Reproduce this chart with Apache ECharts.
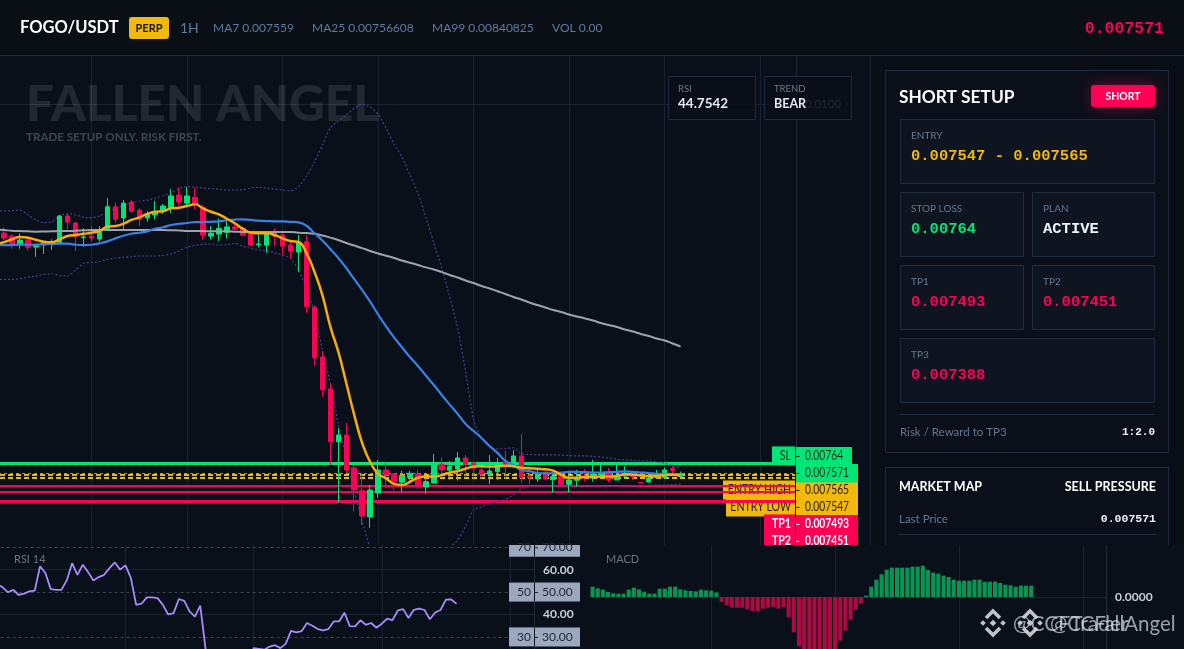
<!DOCTYPE html>
<html><head><meta charset="utf-8">
<style>html,body{margin:0;padding:0;background:#0a0f18;overflow:hidden}#c{width:1184px;height:649px}</style>
<script src="https://cdn.jsdelivr.net/npm/echarts@6/dist/echarts.min.js"></script>
</head><body><div id="c"></div>
<script>
// All prices are in millionths (0.009155 => 9155)
const priceOpen=[9155,9135,9083,9109,9063,9076,9087,9091,9267,9221,9124,9135,9116,9179,9328,9254,9359,9306,9254,9274,9302,9324,9405,9352,9390,9324,9135,9148,9160,9195,9186,9148,9078,9076,9153,9142,9076,9030,9098,8666,8339,8129,7782,7826,7609,7460,7287,7444,7596,7570,7515,7545,7570,7484,7510,7633,7594,7602,7675,7642,7596,7568,7585,7649,7629,7688,7556,7537,7581,7532,7552,7502,7528,7556,7545,7563,7572,7530,7556,7570,7514,7517,7545,7545,7605,7552];
const priceClose=[9122,9083,9109,9061,9074,9094,9096,9267,9227,9131,9129,9122,9175,9328,9245,9352,9298,9245,9280,9295,9333,9399,9359,9399,9344,9142,9153,9186,9195,9181,9142,9076,9083,9153,9135,9069,9037,9096,8670,8335,8124,7782,7826,7596,7464,7293,7464,7596,7563,7517,7559,7574,7486,7519,7629,7596,7618,7675,7633,7607,7568,7589,7629,7629,7688,7545,7545,7572,7537,7552,7502,7530,7545,7545,7570,7572,7530,7556,7574,7552,7510,7541,7570,7596,7594,7571];
const priceLow=[9109,9052,9052,9039,8999,9017,9043,9085,9179,9037,9065,9098,9098,9170,9223,9179,9289,9201,9229,9245,9280,9289,9339,9333,9313,9109,9114,9102,9120,9175,9135,9069,9061,9025,9069,9012,8986,8900,8631,8282,8078,7627,7381,7574,7322,7234,7216,7414,7482,7464,7453,7519,7471,7438,7505,7545,7530,7526,7545,7541,7541,7502,7530,7541,7611,7512,7502,7519,7526,7445,7497,7445,7486,7523,7519,7550,7515,7530,7550,7530,7510,7514,7541,7541,7574,7545];
const priceHigh=[9193,9147,9153,9120,9087,9098,9114,9274,9285,9229,9186,9201,9201,9385,9354,9372,9372,9317,9298,9366,9346,9445,9456,9456,9451,9339,9201,9252,9241,9223,9197,9153,9147,9157,9186,9157,9098,9142,9142,8681,8379,8168,7872,7905,7629,7578,7497,7662,7640,7576,7590,7590,7596,7552,7701,7677,7655,7714,7695,7655,7624,7695,7675,7721,7727,7833,7620,7596,7590,7585,7563,7563,7596,7602,7662,7629,7609,7629,7620,7576,7514,7576,7596,7611,7620,7585];
// The lines start one bar before the first visible candle, off the left edge
const ma7=[9085,9094,9114,9129,9124,9111,9098,9094,9114,9135,9142,9150,9157,9170,9197,9201,9216,9241,9258,9280,9295,9298,9318,9322,9333,9344,9318,9295,9278,9249,9219,9183,9157,9153,9153,9142,9120,9102,9096,9023,8900,8747,8539,8374,8168,7958,7773,7648,7570,7540,7504,7497,7517,7545,7552,7552,7563,7578,7589,7604,7618,7620,7618,7620,7624,7620,7611,7607,7604,7600,7591,7563,7545,7545,7550,7550,7552,7552,7556,7568,7565,7559,7556,7556,7563,7565,7559];
const ma25=[9076,9076,9076,9078,9078,9078,9083,9083,9085,9085,9078,9076,9078,9087,9100,9120,9137,9150,9157,9166,9183,9193,9208,9216,9221,9227,9227,9229,9232,9239,9243,9245,9241,9236,9234,9232,9232,9229,9225,9203,9155,9106,9050,8991,8925,8852,8780,8703,8619,8540,8468,8403,8339,8280,8217,8155,8089,8026,7964,7898,7852,7806,7754,7708,7655,7629,7596,7589,7576,7573,7574,7578,7583,7583,7581,7579,7579,7581,7583,7586,7583,7579,7576,7571,7570,7568,7566];
const ma99=[9178,9175,9170,9168,9166,9164,9165,9166,9168,9168,9170,9173,9175,9175,9175,9175,9175,9175,9175,9175,9175,9175,9173,9172,9168,9168,9168,9166,9166,9166,9164,9162,9162,9162,9162,9162,9162,9162,9157,9155,9150,9139,9125,9109,9089,9073,9056,9037,9020,9006,8991,8974,8960,8945,8929,8915,8898,8879,8862,8843,8826,8806,8790,8772,8754,8734,8718,8698,8681,8665,8648,8635,8619,8606,8593,8579,8563,8550,8537,8520,8507,8491,8477,8461,8448,8428,8408];
const bollUpper=[9300,9300,9302,9306,9274,9241,9223,9229,9271,9282,9274,9258,9256,9267,9295,9318,9335,9354,9364,9372,9385,9400,9420,9449,9460,9456,9451,9447,9443,9438,9438,9440,9451,9456,9451,9445,9438,9433,9460,9530,9622,9734,9846,9892,9931,9977,10004,9984,9938,9846,9741,9655,9537,9418,9260,9089,8925,8734,8530,8241,7925,7800,7747,7734,7737,7741,7701,7698,7695,7695,7695,7693,7691,7688,7688,7685,7681,7675,7665,7662,7658,7655,7655,7649,7639,7622,7609];
const bollLower=[8850,8850,8850,8854,8864,8872,8883,8887,8877,8872,8912,8956,8962,8966,8982,8989,8995,8999,9004,9004,9004,9008,9017,9037,9061,9074,9081,9083,9076,9078,9087,9069,9054,9043,9039,9025,9010,8989,8912,8787,8635,8385,8168,7898,7668,7458,7260,7076,6925,6806,6741,6708,6708,6741,6806,6905,7004,7083,7135,7227,7333,7352,7375,7389,7402,7431,7474,7484,7484,7484,7484,7484,7484,7484,7484,7484,7484,7487,7487,7491,7491,7494,7494,7497,7497,7500,7504];
const rsi14=[53.5,52.1,49.9,51.0,48.7,49.3,50.3,50.6,61.5,58.5,51.3,51.0,51.0,55.2,62.9,57.7,62.2,58.9,55.2,56.7,57.7,60.7,63.2,60.0,61.9,56.3,44.3,44.8,47.6,47.6,47.3,44.3,40.0,40.6,46.9,46.1,41.4,39.0,44.0,24.5,21,18,15,16,15,14,13,17,25,24.7,24.3,25.7,26.3,25,26.9,32.7,32,32.6,36.2,35,33.5,32.9,33.5,36.9,36.9,40.8,34.8,34.7,37.4,35.4,36.2,34.1,35.9,38.1,37.5,41.8,42.4,38.4,42.1,42.6,42,37.9,40.9,42,46.6,46.7,44.7542];
const macdHist=[31,26,22,15,11,10,10,22,28,23,16,10,10,25,25,31,31,23,20,18,17,22,20,19,14,-15,-25,-32,-32,-32,-37,-42,-43,-35,-32,-30,-35,-30,-61,-106,-148,-175,-200,-215,-220,-225,-210,-180,-131,-101,-68,-38,-20,4,31,52,68,82,88,88,88,88,91,91,94,81,73,70,64,60,52,49,49,49,52,52,46,46,46,42,37,35,31,34,34,34];
const slots=Array.from({length:101},(_,i)=>'H'+i);
const priceTagNames=['SL','','ENTRY HIGH','ENTRY LOW','TP1','TP2'];
const priceTagValues=[0.00764,0.007571,0.007565,0.007547,0.007493,0.007451];
const tp3Value=0.007388;
const rsiGuides=[70,50,30];
const rsiSolid=[60,40];

const GREEN='#00e676',RED='#ff0055',YEL='#f0b90b',GRID='#1b2331',BG='#0a1019';
const SANS='Lato, "Noto Sans", sans-serif',MONO='"Liberation Mono", monospace';
const px=v=>v/1e6;
const candles=['-'].concat(priceOpen.map((o,i)=>[px(o),px(priceClose[i]),px(priceLow[i]),px(priceHigh[i])]));
const chart=echarts.init(document.getElementById('c'),null,{renderer:'canvas'});

function lineS(name,vals,color,w,extra){return Object.assign({name,type:'line',data:vals.map(px),showSymbol:false,symbol:'none',smooth:0.5,z:4,silent:true,lineStyle:{color,width:w},xAxisIndex:0,yAxisIndex:0,animation:false},extra||{});}
const hline=(v,color,w,type)=>({yAxis:v,lineStyle:{color,width:w,type}});
const dotted={smooth:0.2,z:3,lineStyle:{color:'#4e3a94',width:1.2,type:[2,2]}};
const xA=(i,data,every,rem)=>({gridIndex:i,type:'category',data,boundaryGap:true,z:i?21:0,axisLine:{show:false},axisTick:{show:false},axisLabel:{show:false},
   splitLine:{show:true,alignWithLabel:true,interval:(n)=>n%every===rem,lineStyle:{color:GRID,width:1}}});

chart.setOption({
 animation:false,backgroundColor:BG,
 grid:[{left:-7.96,top:56,width:803.96,height:489,outerBoundsMode:'none'},{left:-5.34,top:545,width:539.34,height:104,outerBoundsMode:'none'},{left:590,top:545,width:516,height:104,outerBoundsMode:'none'}],
 xAxis:[xA(0,slots,12,0),xA(1,slots,24,0),xA(2,slots.slice(0,100),24,23)],
 yAxis:[
  {gridIndex:0,type:'value',position:'right',min:0.007102,max:0.01032,
   axisLine:{show:true,lineStyle:{color:'#232c3a'}},axisTick:{show:false,customValues:[0.01]},
   axisLabel:{show:true,customValues:[0.01],formatter:v=>v.toFixed(4),color:'#8b93a0',fontFamily:SANS,fontSize:11.5,margin:9},
   splitLine:{show:true,lineStyle:{color:GRID}}},
  {gridIndex:1,type:'value',position:'right',min:24.6,max:71,z:21,
   axisLine:{show:true,lineStyle:{color:'#232c3a'}},axisTick:{show:false,customValues:rsiSolid},
   axisLabel:{show:true,customValues:rsiSolid,formatter:v=>v.toFixed(2),color:'#c9cfd8',fontFamily:SANS,fontWeight:'bold',fontSize:12,margin:9},
   splitLine:{show:true,lineStyle:{color:GRID}}},
  {gridIndex:2,type:'value',position:'right',min:-156,max:156,z:21,
   axisLine:{show:true,lineStyle:{color:'#232c3a'}},axisTick:{show:false,customValues:[0]},
   axisLabel:{show:true,customValues:[0],formatter:()=>'0.0000',color:'#c9cfd8',fontFamily:SANS,fontWeight:'bold',fontSize:12,margin:9},
   splitLine:{show:true,lineStyle:{color:GRID}}}
 ],
 series:[
  lineS('BOLL upper',bollUpper,'#4e3a94',1,Object.assign({},dotted,{
   markLine:{z:2,silent:true,symbol:'none',animation:false,precision:6,label:{show:false},data:[
     hline(priceTagValues[0],GREEN,3,'solid'),
     hline(priceTagValues[2],YEL,2,[5,3]),hline(priceTagValues[3],YEL,2,[5,3]),
     hline(priceTagValues[1],GREEN,1,[3,3]),
     hline(priceTagValues[4],RED,2,'solid'),hline(priceTagValues[5],RED,2,'solid'),hline(tp3Value,RED,3,'solid')]}})),
  lineS('BOLL lower',bollLower,'#4e3a94',1,dotted),
  {name:'Price',type:'candlestick',data:candles,barWidth:5,z:3,silent:true,animation:false,
   itemStyle:{color:GREEN,color0:RED,borderColor:GREEN,borderColor0:RED,borderWidth:1}},
  lineS('MA99',ma99,'#9da3ad',2),
  lineS('MA25',ma25,'#3b7fe6',2.2),
  lineS('MA7',ma7,'#f5ad0a',2.5),
  {name:'RSI',type:'line',xAxisIndex:1,yAxisIndex:1,data:rsi14,showSymbol:false,symbol:'none',z:22,silent:true,lineStyle:{color:'#a78bfa',width:1.8},
   markLine:{z:21,silent:true,symbol:'none',animation:false,label:{show:false},lineStyle:{color:'#3a4454',width:1,type:[3,3]},data:rsiGuides.map(v=>({yAxis:v}))}},
  {name:'MACD',type:'bar',xAxisIndex:2,yAxisIndex:2,data:macdHist.map(v=>({value:v,itemStyle:{color:v>=0?'#0a9454':'#a80c40'}})),barWidth:4.1,z:22,silent:true}
 ]
});

// ---- panels and text
const els=[];
const T=(text,x,y,o={})=>els.push({type:'text',x,y,z:o.z??31,silent:true,scaleX:o.sx||1,style:{text,fill:o.c||'#fff',font:`${o.w||'normal'} ${o.s||12}px ${o.f||SANS}`,align:o.a||'left',verticalAlign:'middle',opacity:o.o??1}});
const R=(x,y,w,h,o={})=>els.push({type:'rect',x,y,z:o.z??30,silent:true,shape:{x:0,y:0,width:w,height:h,r:o.r||0},style:{fill:o.fill||'transparent',stroke:o.stroke,lineWidth:o.stroke?1:0,shadowBlur:o.blur||0,shadowColor:o.glow}});
const L=(x1,y1,x2,y2,c,z=30)=>els.push({type:'line',z,silent:true,shape:{x1,y1,x2,y2},style:{stroke:c,lineWidth:1}});
const BORDER='#1f2a3a',MUTED='#66778f';

// header
R(0,0,1184,55,{fill:'#0a0e15',z:20});L(0,55.5,1184,55.5,'#222b39',21);
T('FOGO/USDT',20,28,{s:16.5,w:'bold'});
R(129,17,40,22,{fill:YEL,r:3});T('PERP',149,28.5,{s:11,c:'#1a1400',a:'center',w:'bold'});
T('1H',180,28,{s:14,c:'#5f7ba0'});
[['MA7 0.007559',213],['MA25 0.00756608',312],['MA99 0.00840825',432],['VOL 0.00',552]].forEach(([t,x])=>T(t,x,28,{s:12,c:'#5f7ba0'}));
T('0.007571',1164,29,{s:16.5,f:MONO,w:'bold',c:RED,a:'right'});

// watermark title
T('FALLEN ANGEL',26,105,{s:49.5,w:'900',c:'#ffffff',o:0.1,z:1});
T('TRADE SETUP ONLY. RISK FIRST.',26,137,{s:11.6,w:'bold',c:'#ffffff',o:0.22,z:1});

// RSI / TREND boxes
R(668.5,76.5,87,43,{fill:'rgba(10,15,24,0.82)',stroke:'#202c3d'});
R(764.5,76.5,87,43,{fill:'rgba(10,15,24,0.82)',stroke:'#202c3d'});
T('RSI',678,89,{s:9.5,c:'#6d7a8c'});T('44.7542',678,104,{s:13.5,w:'bold',c:'#e4e9f0'});
T('TREND',774,89,{s:9.5,c:'#6d7a8c'});T('BEAR',774,104,{s:12.5,w:'bold',c:'#e4e9f0'});

// right column
R(870,56,314,489,{fill:'#090e16',z:20});L(870.5,56,870.5,545,'#1d2635',21);
R(885.5,70.5,283,382,{fill:'#0a0f19',stroke:BORDER});
T('SHORT SETUP',899,97,{s:17.3,w:'bold'});
R(1091,85,64,22,{fill:RED,r:3,blur:14,glow:'rgba(255,0,85,0.45)'});
T('SHORT',1123,96.5,{s:10.5,w:'bold',a:'center'});
const cell=(x,y,w,label,value,color)=>{R(x+.5,y+.5,w,64,{fill:'#0e1520',stroke:BORDER,z:30.5});T(label,x+11,y+17,{s:10,c:MUTED});T(value,x+11,y+37,{s:15.5,f:MONO,w:'bold',c:color});};
cell(900,119,254,'ENTRY','0.007547 - 0.007565',YEL);
cell(900,192,123,'STOP LOSS','0.00764',GREEN);
cell(1032,192,122,'PLAN','ACTIVE','#eef2f8');
cell(900,265,123,'TP1','0.007493',RED);
cell(1032,265,122,'TP2','0.007451',RED);
cell(900,338,254,'TP3','0.007388',RED);
L(900,414.5,1155,414.5,BORDER,31);
T('Risk / Reward to TP3',900,432,{s:11.5,c:MUTED});
T('1:2.0',1155,432.5,{s:11,f:MONO,w:'bold',a:'right',c:'#eef2f8'});
R(885,467,284,78,{fill:'#0a0f19',z:30});
L(885,467.5,1169,467.5,BORDER,31);L(885.5,467,885.5,545,BORDER,31);L(1168.5,467,1168.5,545,BORDER,31);
T('MARKET MAP',899,487,{s:12.5,w:'bold'});T('SELL PRESSURE',1156,487,{s:12.5,w:'bold',a:'right'});
T('Last Price',899,519,{s:11.5,c:MUTED});T('0.007571',1156,519,{s:11.5,f:MONO,w:'bold',a:'right',c:'#eef2f8'});
L(899,534.5,1156,534.5,BORDER,31);

// price tags on the axis, stacked from the stop level
const tagColor=[GREEN,GREEN,YEL,YEL,RED,RED];
const tagText=['#08301c','#08301c','#2a2000','#2a2000','#fff','#fff'];
const tagLeft=[24,0,73,70,32,32];
const y0=chart.convertToPixel({yAxisIndex:0},priceTagValues[0])-7.3;
priceTagNames.forEach((n,i)=>{
  const y=y0+17*i, z=(i<2)?5:1;
  if(tagLeft[i]) {R(796-tagLeft[i],y-9.5,tagLeft[i],19,{fill:tagColor[i],z});T(n,791,y,{s:12.5,sx:.85,c:tagText[i],a:'right',z:z+.5,w:i>3?'bold':'normal'});}
  R(796,y-9,i===0?56:62,18.5,{fill:tagColor[i],z});
  T(priceTagValues[i].toString(),805,y,{s:12.5,sx:.82,c:tagText[i],z:z+.5,w:i>3?'bold':'normal'});
  L(796,y+.5,799.5,y+.5,tagText[i],z+.5);
});
L(795.5,447,795.5,545,'#0a0f18',5.5);

// bottom panels
R(0,545,1184,104,{fill:BG,z:20});
T('RSI 14',14,559,{s:11,c:'#6b7480',z:31});T('MACD',606,559,{s:11,c:'#6b7480',z:31});
rsiGuides.forEach(v=>{const y=chart.convertToPixel({yAxisIndex:1},v);
  const t=Math.max(545,y-9.5),b=Math.min(649,y+9.5);
  R(509,t,25,b-t,{fill:'#9ba8bd',z:30});R(534,t,46,b-t,{fill:'#9ba8bd',z:30});
  L(534.5,t,534.5,b,'#0a0f18',30.5);L(534.5,y+.5,538,y+.5,'#1b2331',30.5);
  T(String(v),531,y,{s:12,c:'#1e2733',a:'right'});T(v.toFixed(2),542,y,{s:12,c:'#1e2733'});});

// Binance-style watermark logos
const logo=(cx,cy)=>{const d=(x,y,r)=>els.push({type:'polygon',z:32,silent:true,shape:{points:[[cx+x,cy+y-r],[cx+x+r,cy+y],[cx+x,cy+y+r],[cx+x-r,cy+y]]},style:{fill:'#d9dde3',opacity:.88}});
  d(0,0,3.3);d(-10,0,2.8);d(10,0,2.8);
  const ch=(s)=>els.push({type:'polyline',z:32,silent:true,shape:{points:[[cx-7,cy+s*5],[cx,cy+s*12],[cx+7,cy+s*5]]},style:{stroke:'#d9dde3',lineWidth:3.6,fill:'none',opacity:.88}});
  ch(-1);ch(1);};
logo(993,623);logo(1030,623);
T('@CCFTrader',1013,624,{s:21,c:'#d9dde3',o:.7,z:32});
T('@CCFallAngel',1050,624,{s:20.5,c:'#d9dde3',o:.7,z:32});

chart.setOption({graphic:{elements:els}});
</script></body></html>
